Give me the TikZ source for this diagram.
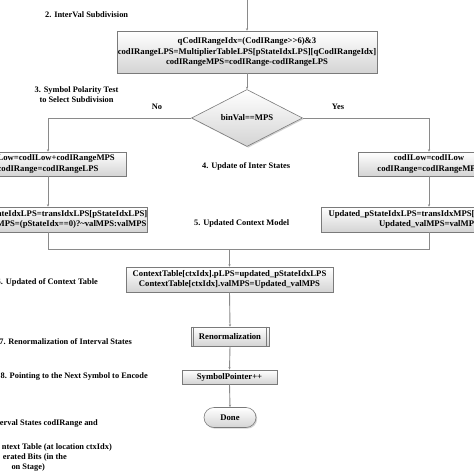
\documentclass[tikz,border=0pt]{standalone}
\usepackage{fontspec}
\setmainfont{Liberation Serif}
\usetikzlibrary{shapes.geometric,shadows,arrows.meta}
\definecolor{linec}{HTML}{8A8A8A}
\definecolor{boxedge}{HTML}{7A7A7A}
\definecolor{boxbot}{HTML}{D4D4D4}
\tikzset{
  txt/.style={font=\bfseries\fontsize{8.7}{10.2}\selectfont, inner sep=0pt, align=center},
  boxn/.style={txt, draw=boxedge, line width=0.6pt, top color=white, bottom color=boxbot,
               drop shadow={shadow xshift=1.2pt, shadow yshift=-1.2pt, fill=black!35},
               inner sep=0pt},
  conn/.style={draw=linec, line width=0.9pt, -{Stealth[length=2.5pt,width=2.2pt]}},
  plain/.style={draw=linec, line width=0.9pt},
  lbl/.style={txt, font=\bfseries\fontsize{8.4}{10.5}\selectfont}
}
\begin{document}
\begin{tikzpicture}[x=1bp,y=-1bp]
\useasboundingbox (0,0) rectangle (474,474);
\fill[white] (0,0) rectangle (474,474);
\clip (0,0) rectangle (474,474);

% nodes
\coordinate (start) at (247,-10);
\node[boxn, minimum width=260bp, minimum height=42bp] (sub) at (247,52)
  {qCodIRangeIdx=(CodIRange>{}>6)\&3\\codIRangeLPS=MultiplierTableLPS[pStateIdxLPS][qCodIRangeIdx]\\codIRangeMPS=codIRange-codIRangeLPS};
\node[txt, shape=diamond, draw=boxedge, line width=0.6pt, top color=white, bottom color=boxbot,
      drop shadow={shadow xshift=1.2pt, shadow yshift=-1.2pt, fill=black!35},
      aspect=2, minimum width=111bp, minimum height=57bp] (dia) at (247,118) {binVal==MPS};
\node[boxn, minimum width=156bp, minimum height=24bp] (L1) at (48,164)
  {codILow=codILow+codIRangeMPS\\codIRange=codIRangeLPS};
\node[boxn, minimum width=198bp, minimum height=25bp] (L2) at (48,219.5)
  {Updated\_pStateIdxLPS=transIdxLPS[pStateIdxLPS]\\Updated\_valMPS=(pStateIdx==0)?\textasciitilde valMPS:valMPS};
\node[boxn, minimum width=142bp, minimum height=24bp] (R1) at (429,164)
  {codILow=codILow\\codIRange=codIRangeMPS};
\node[boxn, minimum width=216bp, minimum height=25bp] (R2) at (429,219.5)
  {Updated\_pStateIdxLPS=transIdxMPS[pStateIdxLPS]\\Updated\_valMPS=valMPS};
\coordinate (merge) at (229.5,249);
\node[boxn, minimum width=207bp, minimum height=25bp] (ctx) at (229.5,279.5)
  {ContextTable[ctxIdx].pLPS=updated\_pStateIdxLPS\\ContextTable[ctxIdx].valMPS=Updated\_valMPS};
\node[boxn, minimum width=78bp, minimum height=19bp] (ren) at (230,336.5) {Renormalization};
\draw[boxedge, line width=0.6pt] ([xshift=3bp]ren.north west) -- ([xshift=3bp]ren.south west)
  ([xshift=-3bp]ren.north east) -- ([xshift=-3bp]ren.south east);
\node[boxn, minimum width=95bp, minimum height=14bp] (sym) at (229.5,377) {SymbolPointer++};
\node[boxn, minimum width=52bp, minimum height=20bp, rounded corners=10bp] (done) at (230,417.5) {Done};

% connectors
\draw[conn] (start) -- (sub.north);
\draw[conn] (sub.south) -- (dia.north);
\draw[conn] (dia.west) -| (L1.north);
\draw[conn] (dia.east) -| (R1.north);
\draw[conn] (L1.south) -- (L2.north);
\draw[conn] (R1.south) -- (R2.north);
\draw[plain] (L2.south) |- (merge);
\draw[plain] (R2.south) |- (merge);
\draw[conn] (merge) -- (ctx.north);
\draw[conn] (ctx.south) -- (ren.north);
\draw[conn] (ren.south) -- (sym.north);
\draw[conn] (sym.south) -- (done.north);

% labels
\node[lbl, anchor=west] (l2) at (45,15) {2. InterVal Subdivision};
\node[lbl] (l3) at (76.5,94.5) {3. Symbol Polarity Test\\to Select Subdivision};
\node[lbl] (lno) at (157,107) {No};
\node[lbl] (lyes) at (338,107) {Yes};
\node[lbl, anchor=west] (l4) at (202,166) {4. Update of Inter States};
\node[lbl, anchor=west] (l5) at (194,223) {5. Updated Context Model};
\node[lbl, anchor=east] (l6) at (98,282) {6. Updated of Context Table};
\node[lbl, anchor=east] (l7) at (132,342) {7. Renormalization of Interval States};
\node[lbl, anchor=east] (l8) at (148,377) {8. Pointing to the Next Symbol to Encode};
\node[lbl, anchor=east] (b1) at (98,424) {erval States codIRange and};
\node[lbl, anchor=east] (b2) at (112,447) {ntext Table (at location ctxIdx)};
\node[lbl, anchor=east] (b3) at (67,457) {erated Bits (in the};
\node[lbl, anchor=east] (b4) at (45,468) {on Stage)};
\end{tikzpicture}
\end{document}
